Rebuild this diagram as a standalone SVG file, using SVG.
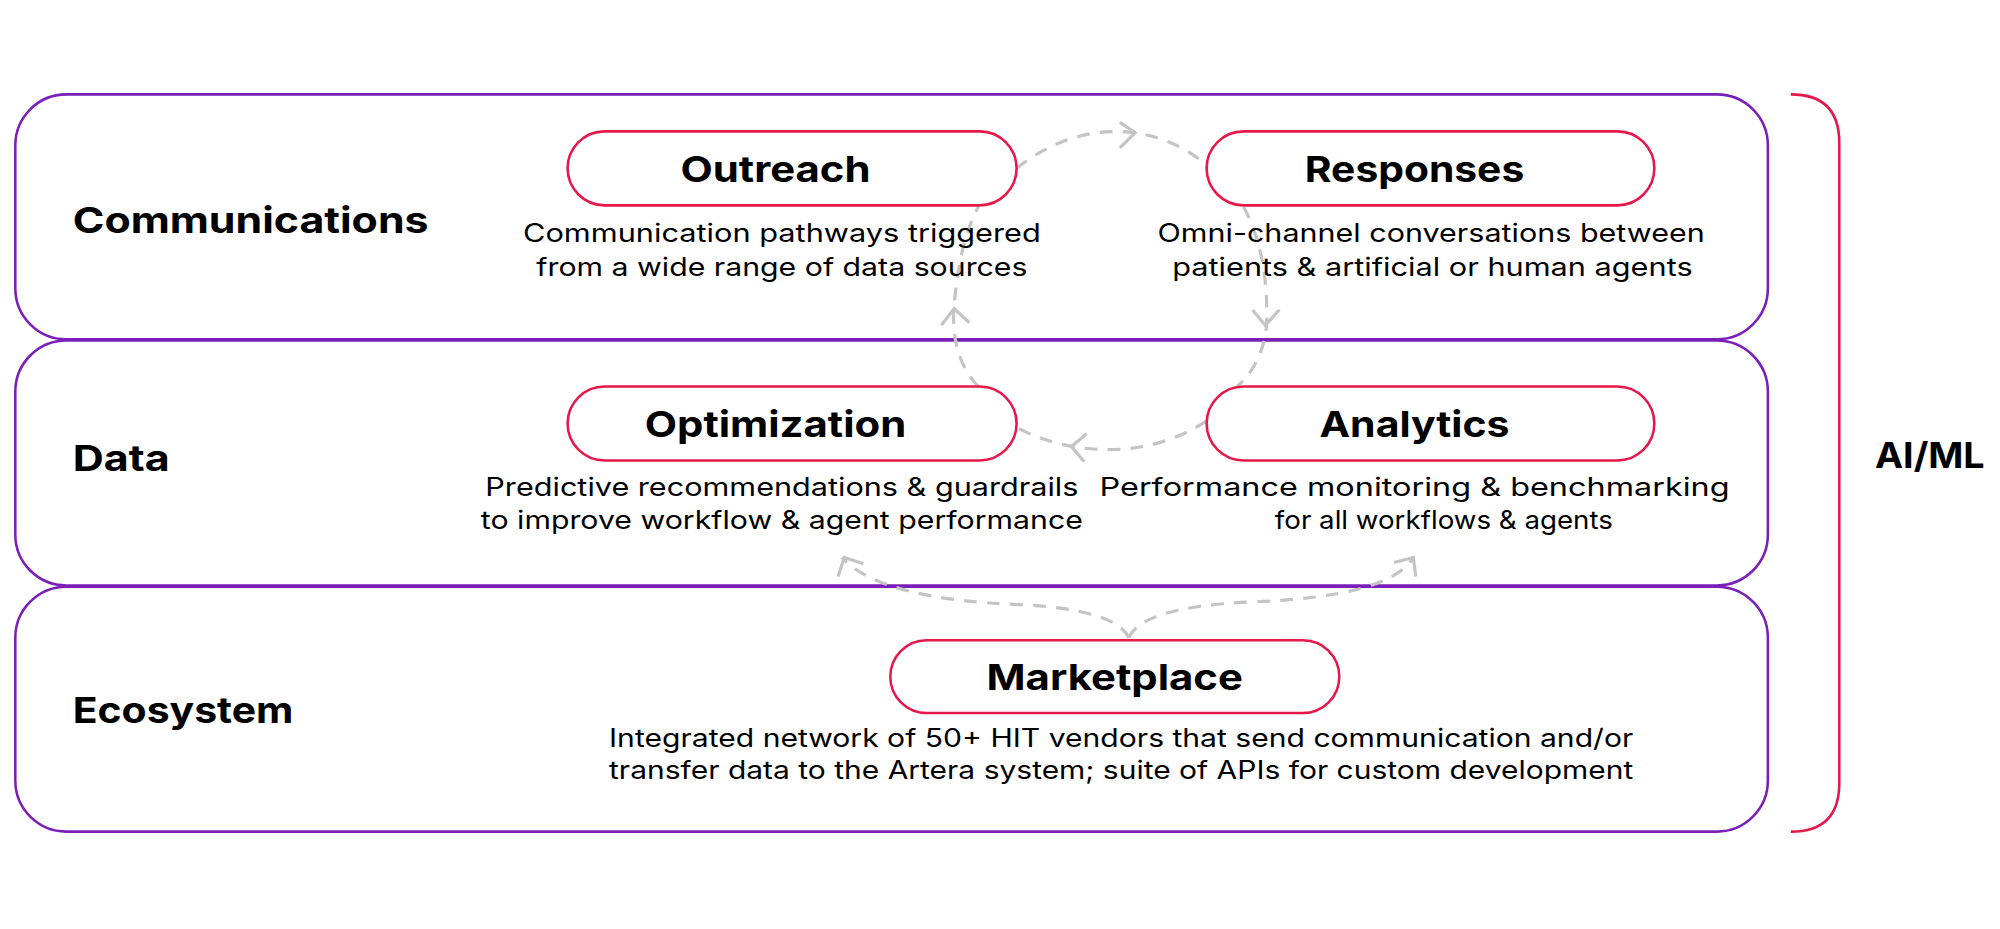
<svg xmlns="http://www.w3.org/2000/svg" width="2000" height="929" viewBox="0 0 2000 929">
<style>
.layer{fill:#fff;stroke:#7a1fb8;stroke-width:2}
.pill{fill:#fff;stroke:#e8174a;stroke-width:2}
.lbl{font-family:Inter,"Liberation Sans",sans-serif;font-weight:700;font-size:28px;fill:#000}
.ttl{font-family:Inter,"Liberation Sans",sans-serif;font-weight:700;font-size:28px;fill:#000;text-anchor:middle}
.dsc{font-family:Inter,"Liberation Sans",sans-serif;font-size:20px;fill:#000;text-anchor:middle}
.dash{fill:none;stroke:#c4c4c4;stroke-width:2.5;stroke-dasharray:10 8}
.chev{fill:none;stroke:#c4c4c4;stroke-width:2.5}
</style>
<rect width="2000" height="929" fill="#fff"/>
<g transform="scale(1.27551)">
<g id="ecosystem"><rect class="layer" x="12" y="460" width="1374" height="192" rx="40"/>
<text class="lbl" x="57" y="567" textLength="173" lengthAdjust="spacingAndGlyphs">Ecosystem</text></g>
<g id="data"><rect class="layer" x="12" y="267" width="1374" height="192" rx="40"/>
<text class="lbl" x="57" y="369" textLength="76" lengthAdjust="spacingAndGlyphs">Data</text></g>
<g id="communications"><rect class="layer" x="12" y="74" width="1374" height="192" rx="40"/>
<text class="lbl" x="57" y="183" textLength="279" lengthAdjust="spacingAndGlyphs">Communications</text></g>
<g id="connectors">
<path class="dash" d="M797,132 Q840,98 890,104 Q925,110 946,130"/>
<polyline class="chev" points="878,96 890,104 878,116"/>
<path class="dash" d="M975,162 Q995,200 993,255 Q990,285 970,303"/>
<polyline class="chev" points="982,243 992,255 1003,243"/>
<path class="dash" d="M946,330 Q900,360 840,350 Q815,345 797,335"/>
<polyline class="chev" points="852,340 840,350 850,362"/>
<path class="dash" d="M767,303 Q745,280 748,240 Q752,190 767,162"/>
<polyline class="chev" points="738,255 748,242 760,253"/>
<path class="dash" d="M885,500 Q875,478 800,474 Q690,470 660,437"/>
<polyline class="chev" points="657,452 662,437 677,442"/>
<path class="dash" d="M885,500 Q895,476 980,472 Q1090,468 1108,437"/>
<polyline class="chev" points="1093,441 1108,437 1110,452"/>
</g>
<g id="outreach"><rect class="pill" x="445" y="103" width="352" height="58" rx="29"/>
<text class="ttl" x="608" y="143" textLength="149" lengthAdjust="spacingAndGlyphs">Outreach</text>
<text class="dsc" x="613" y="190" textLength="406" lengthAdjust="spacingAndGlyphs">Communication pathways triggered</text>
<text class="dsc" x="613" y="216" textLength="385" lengthAdjust="spacingAndGlyphs">from a wide range of data sources</text></g>
<g id="responses"><rect class="pill" x="946" y="103" width="351" height="58" rx="29"/>
<text class="ttl" x="1109" y="143" textLength="172" lengthAdjust="spacingAndGlyphs">Responses</text>
<text class="dsc" x="1122" y="190" textLength="429" lengthAdjust="spacingAndGlyphs">Omni-channel conversations between</text>
<text class="dsc" x="1123" y="216" textLength="408" lengthAdjust="spacingAndGlyphs">patients &amp; artificial or human agents</text></g>
<g id="optimization"><rect class="pill" x="445" y="303" width="352" height="58" rx="29"/>
<text class="ttl" x="608" y="343" textLength="205" lengthAdjust="spacingAndGlyphs">Optimization</text>
<text class="dsc" x="613" y="389" textLength="465" lengthAdjust="spacingAndGlyphs">Predictive recommendations &amp; guardrails</text>
<text class="dsc" x="613" y="415" textLength="472" lengthAdjust="spacingAndGlyphs">to improve workflow &amp; agent performance</text></g>
<g id="analytics"><rect class="pill" x="946" y="303" width="351" height="58" rx="29"/>
<text class="ttl" x="1109" y="343" textLength="149" lengthAdjust="spacingAndGlyphs">Analytics</text>
<text class="dsc" x="1109" y="389" textLength="494" lengthAdjust="spacingAndGlyphs">Performance monitoring &amp; benchmarking</text>
<text class="dsc" x="1132" y="415" textLength="265" lengthAdjust="spacingAndGlyphs">for all workflows &amp; agents</text></g>
<g id="marketplace"><rect class="pill" x="698" y="502" width="352" height="57" rx="28.5"/>
<text class="ttl" x="874" y="541" textLength="201" lengthAdjust="spacingAndGlyphs">Marketplace</text>
<text class="dsc" x="879" y="586" textLength="803" lengthAdjust="spacingAndGlyphs">Integrated network of 50+ HIT vendors that send communication and/or</text>
<text class="dsc" x="879" y="611" textLength="803" lengthAdjust="spacingAndGlyphs">transfer data to the Artera system; suite of APIs for custom development</text></g>
<g id="aiml">
<path d="M1404,74 Q1442,74 1442,112 L1442,614 Q1442,652 1404,652" fill="none" stroke="#e8174a" stroke-width="2"/>
<text class="lbl" x="1470" y="367" textLength="86" lengthAdjust="spacingAndGlyphs">AI/ML</text></g>
</g>
</svg>
